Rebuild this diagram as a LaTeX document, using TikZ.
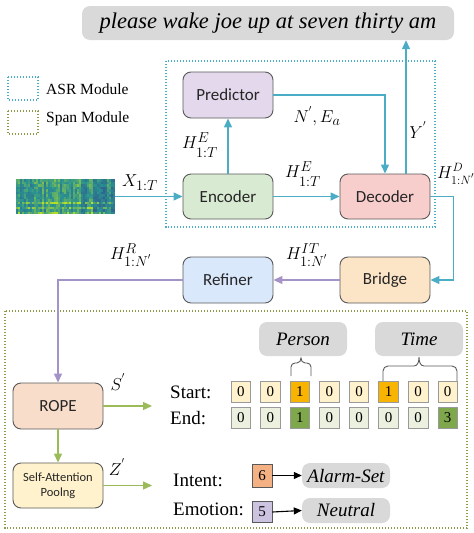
\documentclass[tikz,border=0pt]{standalone}
\usepackage{fontspec}
\setmainfont{Liberation Serif}
\newfontfamily\carlito{Carlito}
\usetikzlibrary{arrows.meta}
\definecolor{cteal}{HTML}{4BACC6}
\definecolor{cpurp}{HTML}{A393C8}
\definecolor{cgreen}{HTML}{9BBB59}
\definecolor{colive}{HTML}{8C9A4B}
\definecolor{cborder}{HTML}{595959}
\definecolor{cPred}{HTML}{E4D8EC}
\definecolor{cEnc}{HTML}{D9EAD3}
\definecolor{cDec}{HTML}{F8CECC}
\definecolor{cBri}{HTML}{FCE4C6}
\definecolor{cRef}{HTML}{DAE8FC}
\definecolor{cRope}{HTML}{F8DDCB}
\definecolor{cSap}{HTML}{FFF2CC}
\definecolor{cGray}{HTML}{D9D9D9}
\definecolor{cStart}{HTML}{FFF2CC}
\definecolor{cStartHi}{HTML}{F8B400}
\definecolor{cEnd}{HTML}{EBF1DE}
\definecolor{cEndHi}{HTML}{7FA84C}
\definecolor{cSix}{HTML}{F4B183}
\definecolor{cFive}{HTML}{CCC3E0}
\definecolor{clow}{HTML}{34508E}
\definecolor{cmid}{HTML}{2A9290}
\definecolor{chigh}{HTML}{B5DE2B}
\tikzset{
  blk/.style={draw=cborder, line width=0.9pt, rounded corners=8pt, minimum width=90pt, minimum height=45pt, font=\carlito\fontsize{17}{19}\selectfont, text=black!85},
  smallblk/.style={blk, font=\carlito\fontsize{12.5}{15}\selectfont, align=center},
  graybox/.style={fill=cGray, rounded corners=8pt, minimum width=88pt, minimum height=34pt, font=\rmfamily\itshape\fontsize{19}{22}\selectfont},
  tealarr/.style={draw=cteal, line width=1.3pt, -{Triangle[length=9pt,width=8pt]}},
  purparr/.style={draw=cpurp, line width=1.3pt, -{Triangle[length=9pt,width=8pt]}},
  greenarr/.style={draw=cgreen, line width=1.3pt, -{Triangle[length=9pt,width=8pt]}},
  blkarr/.style={draw=black, line width=1.1pt, -{Triangle[length=8pt,width=7pt]}},
  lbl/.style={font=\fontsize{19}{21}\selectfont, inner sep=0.5pt},
  txt/.style={font=\fontsize{19}{22}\selectfont, anchor=west, inner sep=0pt},
  cell/.style={draw=gray!80, line width=0.8pt, minimum width=19.5pt, minimum height=21pt, inner sep=0pt, font=\fontsize{15}{17}\selectfont},
  asrbox/.style={draw=cteal, line width=1.3pt, dash pattern=on 1.4pt off 1.6pt},
  spanbox/.style={draw=colive, line width=1.3pt, dash pattern=on 1.4pt off 1.6pt},
  bracel/.style={draw=gray!70!black, line width=0.9pt},
}
\begin{document}
\begin{tikzpicture}[x=1pt,y=-1pt]
\useasboundingbox (0,0) rectangle (474,533);
% module frames
\draw[asrbox] (166,61) rectangle (435,227);
\draw[spanbox] (5,311) rectangle (467,528);
% legend
\draw[asrbox] (8,77) rectangle (38,100);
\draw[spanbox] (8,111) rectangle (38,134);
\node[txt, font=\fontsize{15.5}{18}\selectfont] (lasr) at (46,89) {ASR Module};
\node[txt, font=\fontsize{15.5}{18}\selectfont] (lspan) at (46,119) {Span Module};
% top text
\node[fill=cGray, rounded corners=8pt, minimum width=372pt, minimum height=34pt, font=\rmfamily\itshape\fontsize{22.5}{26}\selectfont] (top) at (268,23) {please wake joe up at seven thirty am};
% spectrogram
\node[minimum width=99pt, minimum height=35pt, inner sep=0pt] (spec) at (65.5,196.5) {};
\pgfmathsetseed{11}
\foreach \i in {0,...,49}{
  \pgfmathsetmacro\cd{rnd}
  \foreach \j in {0,...,13}{
    \pgfmathsetmacro\v{0.47+0.3*rnd-0.35*\cd*\cd + (\j>8)*(mod(\j,2)==1)*0.5*rnd + (\j<3)*0.06}
    \pgfmathtruncatemacro\pa{min(100,max(0,200*\v))}
    \pgfmathtruncatemacro\pb{min(100,max(0,200*\v-100))}
    \colorlet{tmpc}{cmid!\pa!clow}
    \fill[chigh!\pb!tmpc] (16+1.98*\i,179+2.5*\j) rectangle ++(2.1,2.6);
  }
}
% blocks
\node[blk, fill=cPred, minimum height=46pt] (pred) at (228,95) {Predictor};
\node[blk, fill=cEnc] (enc) at (228,196.5) {Encoder};
\node[blk, fill=cDec] (dec) at (385,196.5) {Decoder};
\node[blk, fill=cBri, minimum height=46pt] (bri) at (385,280) {Bridge};
\node[blk, fill=cRef, minimum height=46pt] (ref) at (228,280) {Refiner};
\node[blk, fill=cRope, minimum height=46pt] (rope) at (58,406) {ROPE};
\node[smallblk, fill=cSap] (sap) at (58,485.5) {Self-Attention\\Poolng};
% connectors
\draw[tealarr] (spec.east) -- (enc.west);
\draw[tealarr] (enc.east) -- (dec.west);
\draw[tealarr] (enc.north) -- (pred.south);
\draw[tealarr] (pred.east) -| (dec.north);
\draw[tealarr] ([xshift=21pt]dec.north) -- ([xshift=21pt]dec.north |- top.south);
\draw[tealarr] (dec.east) -- ++(23,0) |- (bri.east);
\draw[purparr] (bri.west) -- (ref.east);
\draw[purparr] (ref.west) -| (rope.north);
\draw[greenarr] (rope.south) -- (sap.north);
\coordinate (sout) at (152,406);
\coordinate (zout) at (152,485.5);
\draw[greenarr] (rope.east) -- (sout);
\draw[greenarr] (sap.east) -- (zout);
% labels
\node[lbl] (lx) at (140,183) {$X_{1:T}$};
\node[lbl] (lhe1) at (200,145) {$H^{E}_{1:T\vphantom{N^{'}}}$};
\node[lbl] (lhe2) at (303,174) {$H^{E}_{1:T\vphantom{N^{'}}}$};
\node[lbl] (lne) at (317,116) {$N^{'}, E_{a}$};
\node[lbl] (ly) at (418,130) {$Y^{'}$};
\node[lbl, anchor=west, inner sep=0pt, font=\fontsize{17.5}{20}\selectfont] (lhd) at (437,174) {$H^{D}_{1:N^{'}}$};
\node[lbl] (lhit) at (307,255) {$H^{IT}_{1:N^{'}}$};
\node[lbl] (lhr) at (131,255) {$H^{R}_{1:N^{'}}$};
\node[lbl] (ls) at (118,382) {$S^{'}$};
\node[lbl] (lz) at (117,467) {$Z^{'}$};
% span outputs
\node[graybox] (person) at (303,339) {Person};
\node[graybox] (time) at (419,339) {Time};
\draw[bracel] (291,376) -- (291,367) to[out=90,in=180] (295,363) -- (297,363) to[out=0,in=-90] (301,358) to[out=-90,in=180] (305,363) -- (307,363) to[out=0,in=90] (311,367) -- (311,376);
\draw[bracel] (383,381) -- (383,371) to[out=90,in=180] (388,366) -- (414,366) to[out=0,in=-90] (419,357) to[out=-90,in=180] (424,366) -- (452,366) to[out=0,in=90] (457,371) -- (457,381);
\node[txt] (lstart) at (170,392) {Start:};
\node[txt] (lend) at (170,418) {End:};
\foreach \k/\sv/\ev in {1/0/0,2/0/0,3/1/1,4/0/0,5/0/0,6/1/0,7/0/0,8/0/3}{
  \pgfmathsetmacro\cx{240.75+29.57*(\k-1)}
  \ifnum\sv=1 \def\sf{cStartHi}\else\def\sf{cStart}\fi
  \ifnum\ev=0 \def\ef{cEnd}\else\def\ef{cEndHi}\fi
  \node[cell, fill=\sf] (s\k) at (\cx,391.5) {\sv};
  \node[cell, fill=\ef] (e\k) at (\cx,417.5) {\ev};
}
\node[txt] (lint) at (173,480) {Intent:};
\node[txt] (lemo) at (173,509) {Emotion:};
\node[cell, draw=cborder, fill=cSix, minimum width=20pt, minimum height=23pt] (six) at (262,475.5) {6};
\node[cell, draw=cborder, fill=cFive, minimum width=20pt, minimum height=21pt] (five) at (262,512) {5};
\node[graybox, minimum height=25pt] (alarm) at (346,475.5) {Alarm-Set};
\node[graybox, minimum height=25pt] (neutral) at (346,510.5) {Neutral};
\draw[blkarr] (six.east) -- (alarm.west);
\draw[blkarr] (five.east) -- (neutral.west);
\end{tikzpicture}
\end{document}
